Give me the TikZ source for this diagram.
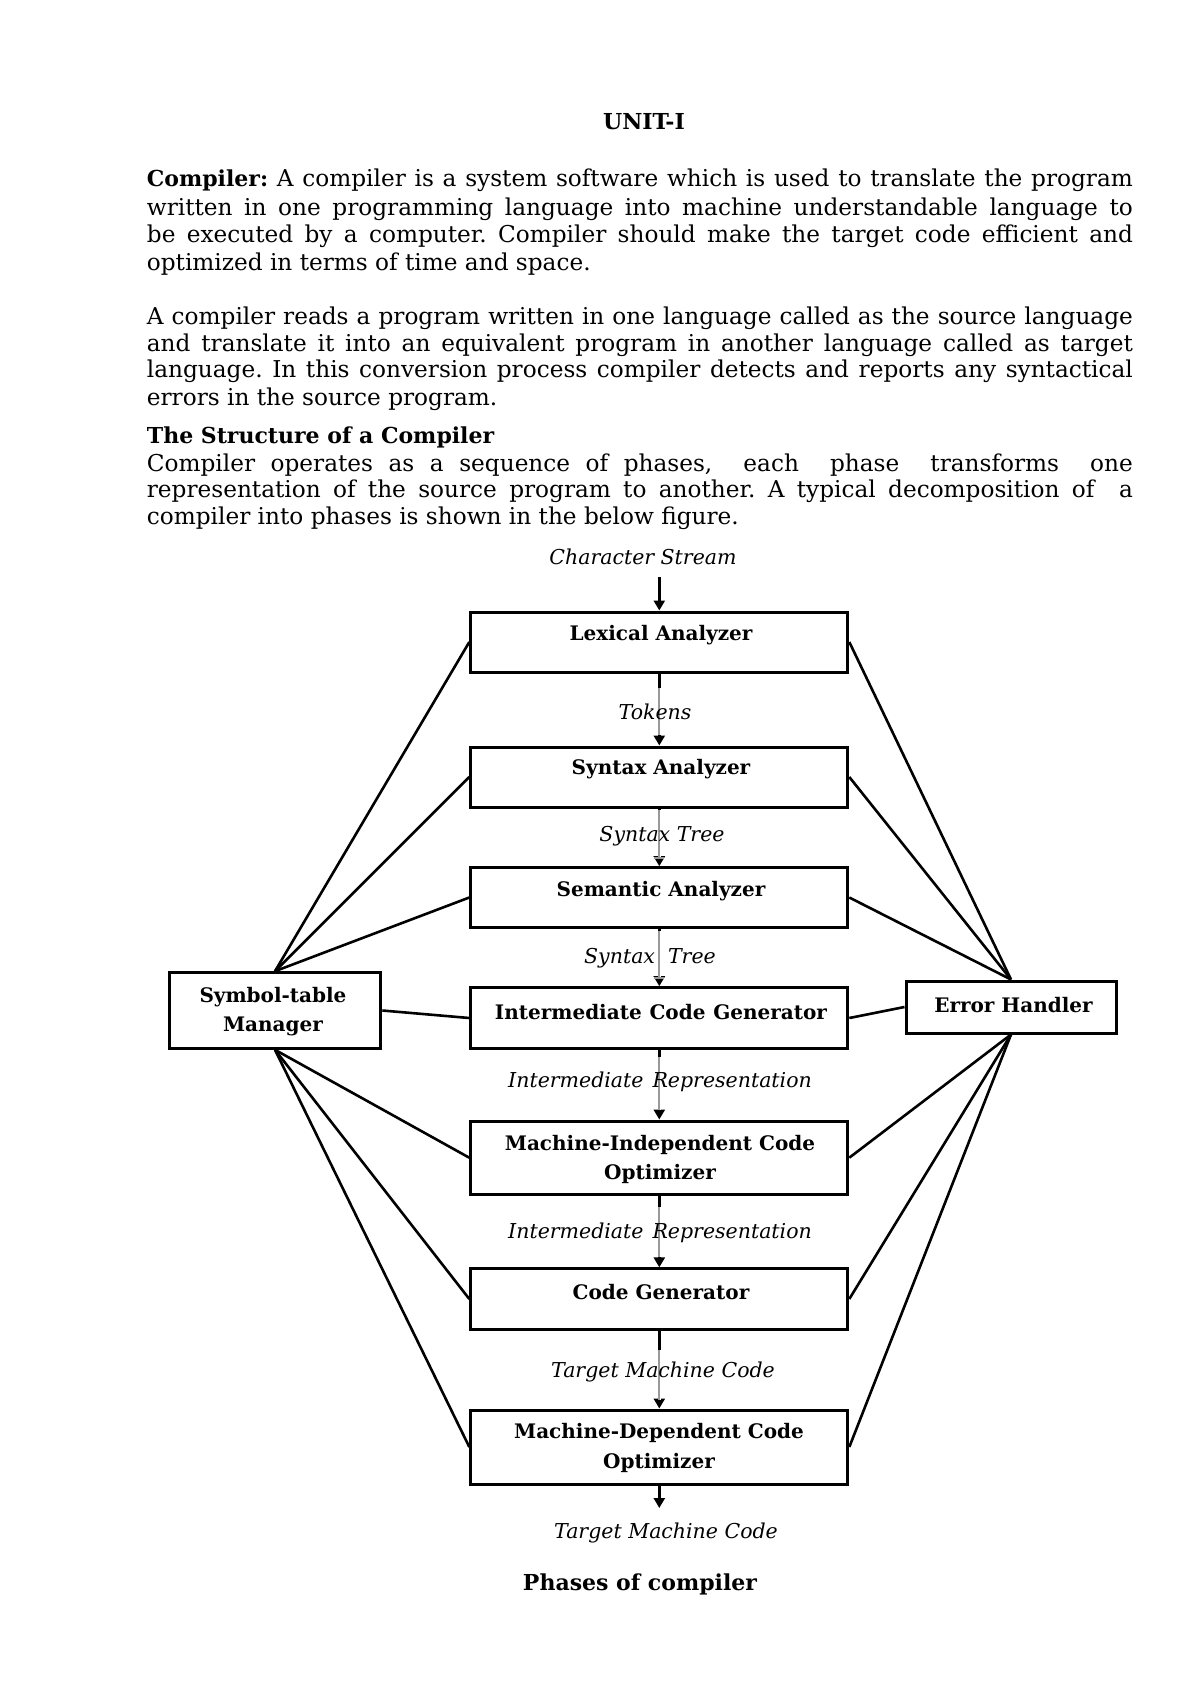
\documentclass[tikz,border=0pt]{standalone}
\usepackage{fontspec}
\setmainfont{DejaVu Serif}
\usetikzlibrary{arrows.meta}
\frenchspacing
\begin{document}
\begin{tikzpicture}[x=1pt,y=-1pt,
  box/.style={draw, line width=3pt, minimum width=377pt, inner sep=0pt},
  sidebox/.style={draw, line width=3pt, inner sep=0pt},
  blabel/.style={font=\fontsize{20}{29.5}\selectfont\bfseries, inner sep=0pt, align=center},
  ilabel/.style={font=\fontsize{20.5}{24}\selectfont\itshape, inner sep=0pt},
  body/.style={font=\fontsize{23.2}{27.7}\selectfont, inner sep=0pt, anchor=base west},
  bodybold/.style={font=\fontsize{22}{27.7}\selectfont\bfseries},
  conn/.style={line width=2.6pt},
  flow/.style={line width=2.6pt, -{Triangle[width=11pt,length=10pt]}},
  grayseg/.style={line width=2pt, draw=black!40, preaction={draw=white, line width=3.4pt}},
]
\fill[white] (0,0) rectangle (1200,1696);
\useasboundingbox (0,0) rectangle (1200,1696);

% ---------- text ----------
\node[font=\fontsize{22}{27}\selectfont\bfseries, inner sep=0pt, anchor=base] (unit) at (644,129.7) {UNIT-I};
\node[body] (p1a) at (146.7,187) {\makebox[986pt][s]{{\fontsize{22}{27.7}\selectfont\bfseries Compiler:} A compiler is a system software which is used to translate the program}};
\node[body] (p1b) at (146.7,215.3) {\makebox[986pt][s]{written in one programming language into machine understandable language to}};
\node[body] (p1c) at (146.7,242.7) {\makebox[986pt][s]{be executed by a computer. Compiler should make the target code efficient and}};
\node[body] (p1d) at (146.7,270.3) {optimized in terms of time and space.};
\node[body] (p2a) at (146.7,324.3) {\makebox[986pt][s]{A compiler reads a program written in one language called as the source language}};
\node[body] (p2b) at (146.7,351) {\makebox[986pt][s]{and translate it into an equivalent program in another language called as target}};
\node[body] (p2c) at (146.7,377.7) {\makebox[986pt][s]{language. In this conversion process compiler detects and reports any syntactical}};
\node[body] (p2d) at (146.7,405) {errors in the source program.};
\node[body, bodybold] (st) at (146.7,443) {The Structure of a Compiler};
\node[body] (p3a) at (146.7,471) {\makebox[986pt][s]{Compiler operates as a sequence of phases,\ \ each\ \ phase\ \ transforms\ \ one}};
\node[body] (p3b) at (146.7,497.7) {\makebox[986pt][s]{representation of the source program to another. A typical decomposition of\ \ a}};
\node[body] (p3c) at (146.7,524.3) {compiler into phases is shown in the below figure.};

% ---------- boxes ----------
\node[box, minimum height=60pt] (lex) at (659.3,642) {};
\node[box, minimum height=60pt] (syn) at (659.3,777) {};
\node[box, minimum height=59.6pt] (sem) at (659.3,897.5) {};
\node[box, minimum height=60.6pt] (icg) at (659.3,1018) {};
\node[box, minimum height=73.3pt] (mic) at (659.3,1157.7) {};
\node[box, minimum height=60.3pt] (cg) at (659.3,1299) {};
\node[box, minimum height=74pt] (mdc) at (659.3,1447) {};
\node[sidebox, minimum width=211.7pt, minimum height=75.6pt] (sym) at (275,1010.5) {};
\node[sidebox, minimum width=210pt, minimum height=52pt] (err) at (1011,1007) {};

\node[blabel] (lexT) at (661,635) {Lexical Analyzer};
\node[blabel] (synT) at (661,769.3) {Syntax Analyzer};
\node[blabel] (semT) at (661,891) {Semantic Analyzer};
\node[blabel] (icgT) at (661,1011.7) {Intermediate\hspace{7.8pt}Code\hspace{7.8pt}Generator};
\node[blabel] (micT) at (660,1159.7) {Machine-Independent Code\\Optimizer};
\node[blabel] (cgT) at (661,1291.7) {Code Generator};
\node[blabel] (mdcT) at (659,1448) {Machine-Dependent Code\\Optimizer};
\node[blabel] (symT) at (273,1011.5) {Symbol-table\\Manager};
\node[blabel] (errT) at (1013.5,1005) {Error Handler};

% ---------- connectors ----------
\draw[conn] (sym.north) -- (lex.west);
\draw[conn] (sym.north) -- (syn.west);
\draw[conn] (sym.north) -- (sem.west);
\draw[conn] (sym.east) -- (icg.west);
\draw[conn] (sym.south) -- (mic.west);
\draw[conn] (sym.south) -- (cg.west);
\draw[conn] (sym.south) -- (mdc.west);
\draw[conn] (err.north) -- (lex.east);
\draw[conn] (err.north) -- (syn.east);
\draw[conn] (err.north) -- (sem.east);
\draw[conn] (icg.east) -- (err.west);
\draw[conn] (err.south) -- (mic.east);
\draw[conn] (err.south) -- (cg.east);
\draw[conn] (err.south) -- (mdc.east);

% ---------- flow arrows ----------
\coordinate (csin) at (659.3,577);
\coordinate (tmcout) at (659.3,1508);
\draw[flow] (csin) -- (lex.north);
\draw[flow] (lex.south) -- (syn.north);
\draw[flow] (syn.south) -- (sem.north);
\draw[flow] (sem.south) -- (icg.north);
\draw[flow] (icg.south) -- (mic.north);
\draw[flow] (mic.south) -- (cg.north);
\draw[flow] (cg.south) -- (mdc.north);
\draw[flow] (mdc.south) -- (tmcout);

% gray middle parts of the arrows
\coordinate (g1a) at (659.3,688); \coordinate (g1b) at (659.3,735);
\coordinate (g2a) at (659.3,810); \coordinate (g2b) at (659.3,858);
\coordinate (g3a) at (659.3,931); \coordinate (g3b) at (659.3,978);
\coordinate (g4a) at (659.3,1057); \coordinate (g4b) at (659.3,1110);
\coordinate (g5a) at (659.3,1207); \coordinate (g5b) at (659.3,1257);
\coordinate (g6a) at (659.3,1350); \coordinate (g6b) at (659.3,1400);
\draw[grayseg] (g1a) -- (g1b);
\draw[grayseg] (g2a) -- (g2b);
\draw[grayseg] (g3a) -- (g3b);
\draw[line width=2pt, draw=black!40] ([xshift=-5pt]g2b) -- ([xshift=5pt]g2b);
\draw[line width=2pt, draw=black!40] ([xshift=-5pt]g3b) -- ([xshift=5pt]g3b);
\draw[grayseg] (g4a) -- (g4b);
\draw[grayseg] (g5a) -- (g5b);
\draw[grayseg] (g6a) -- (g6b);

% ---------- arrow labels ----------
\node[ilabel] (csT) at (643,557) {Character Stream};
\node[ilabel] (tokT) at (655,711.7) {Tokens};
\node[ilabel] (st1T) at (662,836) {Syntax Tree};
\node[ilabel] (st2T) at (650,958) {Syntax\ \ Tree};
\node[ilabel] (ir1T) at (660,1081.7) {Intermediate\hspace{9pt}Representation};
\node[ilabel] (ir2T) at (660,1232.7) {Intermediate\hspace{9pt}Representation};
\node[ilabel] (tm1T) at (663,1371.7) {Target Machine Code};
\node[ilabel] (tm2T) at (666,1532.7) {Target Machine Code};

\node[font=\fontsize{22}{26}\selectfont\bfseries, inner sep=0pt] (cap) at (640,1584) {Phases of compiler};
\end{tikzpicture}
\end{document}
